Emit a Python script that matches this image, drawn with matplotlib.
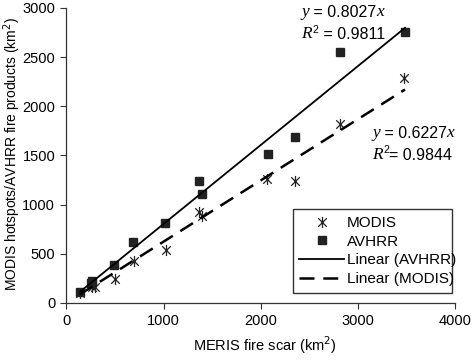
import numpy as np
import matplotlib
matplotlib.use('Agg')
import matplotlib.pyplot as plt
from matplotlib.path import Path

plt.rcParams['font.family'] = ['Liberation Sans', 'DejaVu Sans']

# MERIS fire scar area vs detected area (km2)
avhrr_x = [144, 250, 264, 490, 686, 1020, 1366, 1394, 2070, 2355, 2815, 3485]
avhrr_y = [110, 207, 224, 385, 619, 813, 1242, 1109, 1517, 1686, 2553, 2751]
modis_x = [138, 264, 290, 497, 693, 1023, 1366, 1400, 2060, 2355, 2815, 3477]
modis_y = [100, 166, 163, 245, 431, 533, 925, 887, 1265, 1237, 1823, 2292]
slope_avhrr = 0.8027
slope_modis = 0.6227
r2_avhrr = 0.9811
r2_modis = 0.9844
xticks = [0, 1000, 2000, 3000, 4000]
yticks = [0, 500, 1000, 1500, 2000, 2500, 3000]

# X with a vertical bar, like the Excel star marker
star = Path([(-1, -1), (1, 1), (-1, 1), (1, -1), (0, -1.3), (0, 1.3)],
            [Path.MOVETO, Path.LINETO, Path.MOVETO, Path.LINETO, Path.MOVETO, Path.LINETO])

fig = plt.figure(figsize=(4.74, 3.61), dpi=100)
ax = fig.add_axes([0.140, 0.161, 0.820, 0.817])

ax.plot(modis_x, modis_y, linestyle='none', marker=star, markersize=8,
        markeredgewidth=0.9, color='#222222', label='MODIS')
ax.plot(avhrr_x, avhrr_y, linestyle='none', marker='s', markersize=6,
        color='#222222', label='AVHRR')

xa = np.array([min(avhrr_x), max(avhrr_x)])
ax.plot(xa, slope_avhrr * xa, color='black', lw=1.3, label='Linear (AVHRR)')
xm = np.array([min(modis_x), max(avhrr_x)])
ax.plot(xm, slope_modis * xm, color='black', lw=1.8, dashes=[6, 3.5],
        label='Linear (MODIS)')

ax.set_xlim(0, 4000)
ax.set_ylim(0, 3000)
ax.set_xticks(xticks)
ax.set_yticks(yticks)
ax.tick_params(direction='out', length=4, width=0.8, color='#333333',
               labelsize=10.5, pad=4)
for s in ['top', 'right']:
    ax.spines[s].set_visible(False)
for s in ['left', 'bottom']:
    ax.spines[s].set_color('#333333')
    ax.spines[s].set_linewidth(0.9)

ax.set_xlabel('MERIS fire scar (km$^2$)', fontsize=10.5)
ax.xaxis.set_label_coords(0.512, -0.108)
ax.set_ylabel('MODIS hotspots/AVHRR fire products (km$^2$)', fontsize=10)
ax.yaxis.set_label_coords(-0.112, 0.505)


def equation(x, y, slope, r2, sep):
    # italic serif symbols, sans-serif numbers, like the Excel trendline label
    it = dict(family='Liberation Serif', style='italic', fontsize=12.5)
    rm = dict(fontsize=11.5)
    t = ax.text(x, y, 'y', va='baseline', **it)
    t = ax.annotate(' = %.4f' % slope, xy=(1, 0), xycoords=t, va='bottom', **rm)
    ax.annotate('x', xy=(1, 0), xycoords=t, va='bottom', **it)
    t = ax.text(x, y - 220, 'R', va='baseline', **it)
    s = ax.annotate('2', xy=(1, 1), xycoords=t, va='top', xytext=(0.5, 1),
                    textcoords='offset points', fontsize=7.5)
    ax.annotate(sep + '= %.4f' % r2, xy=(1, 0), xycoords=(s, t), va='bottom', **rm)


equation(2420, 2915, slope_avhrr, r2_avhrr, ' ')
equation(3145, 1685, slope_modis, r2_modis, '')

leg = ax.legend(loc='lower left', bbox_to_anchor=(0.582, 0.034, 0.41, 0.302),
                mode='expand', fontsize=11, frameon=True, fancybox=False,
                borderpad=0.45, labelspacing=0.3, handlelength=2.9,
                handletextpad=0.2, borderaxespad=0)
leg.get_frame().set_edgecolor('black')
leg.get_frame().set_linewidth(1.0)

fig.savefig('out.png', dpi=100)
